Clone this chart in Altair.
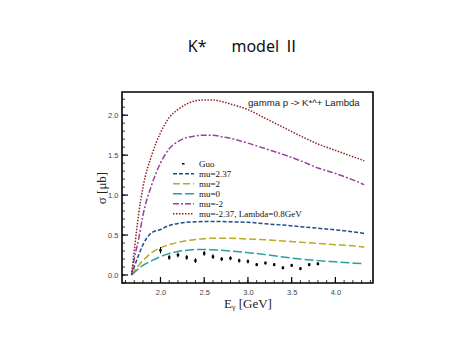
import altair as alt
import pandas as pd

# ---- data ----
x_grid = [1.67, 1.7, 1.75, 1.8, 1.9, 2.0, 2.1, 2.2, 2.3, 2.4, 2.5, 2.6, 2.7, 2.8,
          3.0, 3.2, 3.4, 3.6, 3.8, 4.0, 4.2, 4.33]
mu_237 = [0, 0.10, 0.25, 0.38, 0.53, 0.57, 0.62, 0.645, 0.66, 0.665, 0.67, 0.67, 0.67, 0.665,
          0.66, 0.64, 0.625, 0.605, 0.585, 0.565, 0.54, 0.52]
mu_2 = [0, 0.05, 0.12, 0.18, 0.28, 0.34, 0.38, 0.41, 0.43, 0.445, 0.455, 0.46, 0.46, 0.46,
        0.45, 0.44, 0.425, 0.41, 0.395, 0.38, 0.365, 0.35]
mu_0 = [0, 0.03, 0.08, 0.12, 0.18, 0.23, 0.27, 0.295, 0.31, 0.32, 0.32, 0.315, 0.31, 0.30,
        0.28, 0.255, 0.225, 0.20, 0.18, 0.165, 0.15, 0.14]
mu_m2 = [0, 0.20, 0.45, 0.75, 1.13, 1.40, 1.58, 1.67, 1.72, 1.74, 1.75, 1.75, 1.73, 1.71,
         1.65, 1.58, 1.51, 1.43, 1.34, 1.27, 1.19, 1.13]
mu_m237_L08 = [0, 0.30, 0.76, 1.10, 1.50, 1.78, 1.97, 2.07, 2.14, 2.18, 2.19, 2.19, 2.17, 2.14,
               2.07, 1.96, 1.85, 1.74, 1.64, 1.56, 1.48, 1.43]

guo_x = [2.0, 2.1, 2.2, 2.3, 2.4, 2.5, 2.6, 2.7, 2.8, 2.9, 3.0, 3.1, 3.2, 3.3, 3.4, 3.5, 3.6, 3.7, 3.8]
guo_y = [0.31, 0.22, 0.25, 0.22, 0.18, 0.27, 0.23, 0.20, 0.21, 0.18, 0.17, 0.13, 0.15, 0.13,
         0.09, 0.12, 0.08, 0.13, 0.14]
guo_err = [0.04, 0.03, 0.03, 0.03, 0.03, 0.03, 0.03, 0.025, 0.025, 0.025, 0.025, 0.02, 0.02,
           0.02, 0.02, 0.02, 0.02, 0.02, 0.02]

series_names = ["Guo", "mu=2.37", "mu=2", "mu=0", "mu=-2", "mu=-2.37, Lambda=0.8GeV"]
series_colors = ["#000000", "#1f4e8c", "#b9aa1e", "#2a9fa3", "#9a3fa3", "#8b2323"]
series_dash = [[0, 9, 2.5, 40], [4, 2], [7, 3], [9, 3], [6, 2, 2, 2], [1.5, 1.5]]

x_major = [2, 2.5, 3, 3.5, 4]
y_major = [0, 0.5, 1, 1.5, 2]
x_minor = [round(1.6 + 0.1 * i, 2) for i in range(29)]
y_minor = [round(-0.1 + 0.1 * i, 2) for i in range(24)]

title_text = "K*\u00a0\u00a0\u00a0\u00a0\u00a0\u00a0model \u2161"
annotation = "gamma p -> K*^+ Lambda"

# ---- tables ----
curve_cols = [mu_237, mu_2, mu_0, mu_m2, mu_m237_L08]
rows = []
for name, ys in zip(series_names[1:], curve_cols):
    for xv, yv in zip(x_grid, ys):
        rows.append({"E": xv, "sigma": yv, "series": name})
curves = pd.DataFrame(rows)
guo = pd.DataFrame({"E": guo_x, "sigma": guo_y,
                    "lo": [a - b for a, b in zip(guo_y, guo_err)],
                    "hi": [a + b for a, b in zip(guo_y, guo_err)]})

W, H = 251, 191
xs = alt.Scale(domain=[1.56, 4.43], nice=False, zero=False)
ys = alt.Scale(domain=[-0.1, 2.29], nice=False, zero=False)

xaxis = alt.Axis(values=x_major, ticks=False, domain=False, grid=False,
                 labelFont="Liberation Sans", labelFontSize=7.5, labelColor="#444",
                 labelPadding=5, title="E\u1d67 [GeV]", titleFont="Liberation Serif",
                 titleFontSize=13, titleFontWeight="normal", titleColor="#222",
                 titleY=24, titleBaseline="alphabetic")
yaxis = alt.Axis(values=y_major, ticks=False, domain=False, grid=False,
                 labelFont="Liberation Sans", labelFontSize=7.5, labelColor="#444",
                 labelPadding=4, title="\u03c3 [\u03bcb]", titleFont="Liberation Serif",
                 titleFontSize=13, titleFontWeight="normal", titleColor="#222",
                 titleX=-17, titleY=H / 2, titleBaseline="alphabetic", titleAngle=270)

legend_opts = dict(title=None, orient="none", legendX=50, legendY=67,
                   symbolType="stroke", symbolSize=441, symbolStrokeWidth=1.5,
                   clipHeight=9.3, rowPadding=-3, padding=0,
                   labelFont="Liberation Serif", labelFontSize=9, labelColor="#111",
                   labelOffset=4)

lines = alt.Chart(curves).mark_line(strokeWidth=1.5, interpolate="monotone").encode(
    x=alt.X("E:Q", scale=xs, axis=xaxis),
    y=alt.Y("sigma:Q", scale=ys, axis=yaxis),
    color=alt.Color("series:N", scale=alt.Scale(domain=series_names, range=series_colors),
                    legend=alt.Legend(**legend_opts)),
    strokeDash=alt.StrokeDash("series:N", scale=alt.Scale(domain=series_names, range=series_dash),
                              legend=alt.Legend(**legend_opts)),
    detail="series:N",
)

err = alt.Chart(guo).mark_rule(color="black", strokeWidth=1).encode(
    x="E:Q", y="lo:Q", y2="hi:Q")
pts = alt.Chart(guo).mark_square(color="black", size=6, opacity=1).encode(
    x="E:Q", y="sigma:Q")

tick_x_major = alt.Chart(pd.DataFrame({"v": x_major})).mark_rule(color="black", strokeWidth=1.2).encode(
    x=alt.X("v:Q", scale=xs), y=alt.value(H), y2=alt.value(H - 6))
tick_x_minor = alt.Chart(pd.DataFrame({"v": x_minor})).mark_rule(color="black", strokeWidth=0.8).encode(
    x=alt.X("v:Q", scale=xs), y=alt.value(H), y2=alt.value(H - 3))
tick_y_major = alt.Chart(pd.DataFrame({"v": y_major})).mark_rule(color="black", strokeWidth=1.2).encode(
    y=alt.Y("v:Q", scale=ys), x=alt.value(0), x2=alt.value(6))
tick_y_minor = alt.Chart(pd.DataFrame({"v": y_minor})).mark_rule(color="black", strokeWidth=0.8).encode(
    y=alt.Y("v:Q", scale=ys), x=alt.value(0), x2=alt.value(3))

frame = alt.Chart(pd.DataFrame({"f": [0]})).mark_rect(
    filled=False, stroke="black", strokeWidth=1.6).encode(
    x=alt.value(0), x2=alt.value(W), y=alt.value(0), y2=alt.value(H))

note = alt.Chart(pd.DataFrame({"t": [annotation]})).mark_text(
    align="left", baseline="alphabetic", font="Liberation Sans", fontSize=9.6, color="#222"
).encode(text="t:N", x=alt.value(126), y=alt.value(14))

chart = alt.layer(lines, err, pts, tick_x_major, tick_x_minor, tick_y_major, tick_y_minor,
                  frame, note).properties(
    width=W, height=H,
    background="white",
    title=alt.TitleParams(title_text, font="Noto Sans, Noto Sans CJK SC", fontSize=16,
                          fontWeight="normal", color="#111", offset=36, dx=-4, anchor="middle"),
    autosize=alt.AutoSizeParams(type="none"),
    padding={"left": 122, "top": 92, "right": 101, "bottom": 72},
).configure_view(strokeWidth=0)

chart.save("out.html", embed_options={"renderer": "svg", "actions": False})
